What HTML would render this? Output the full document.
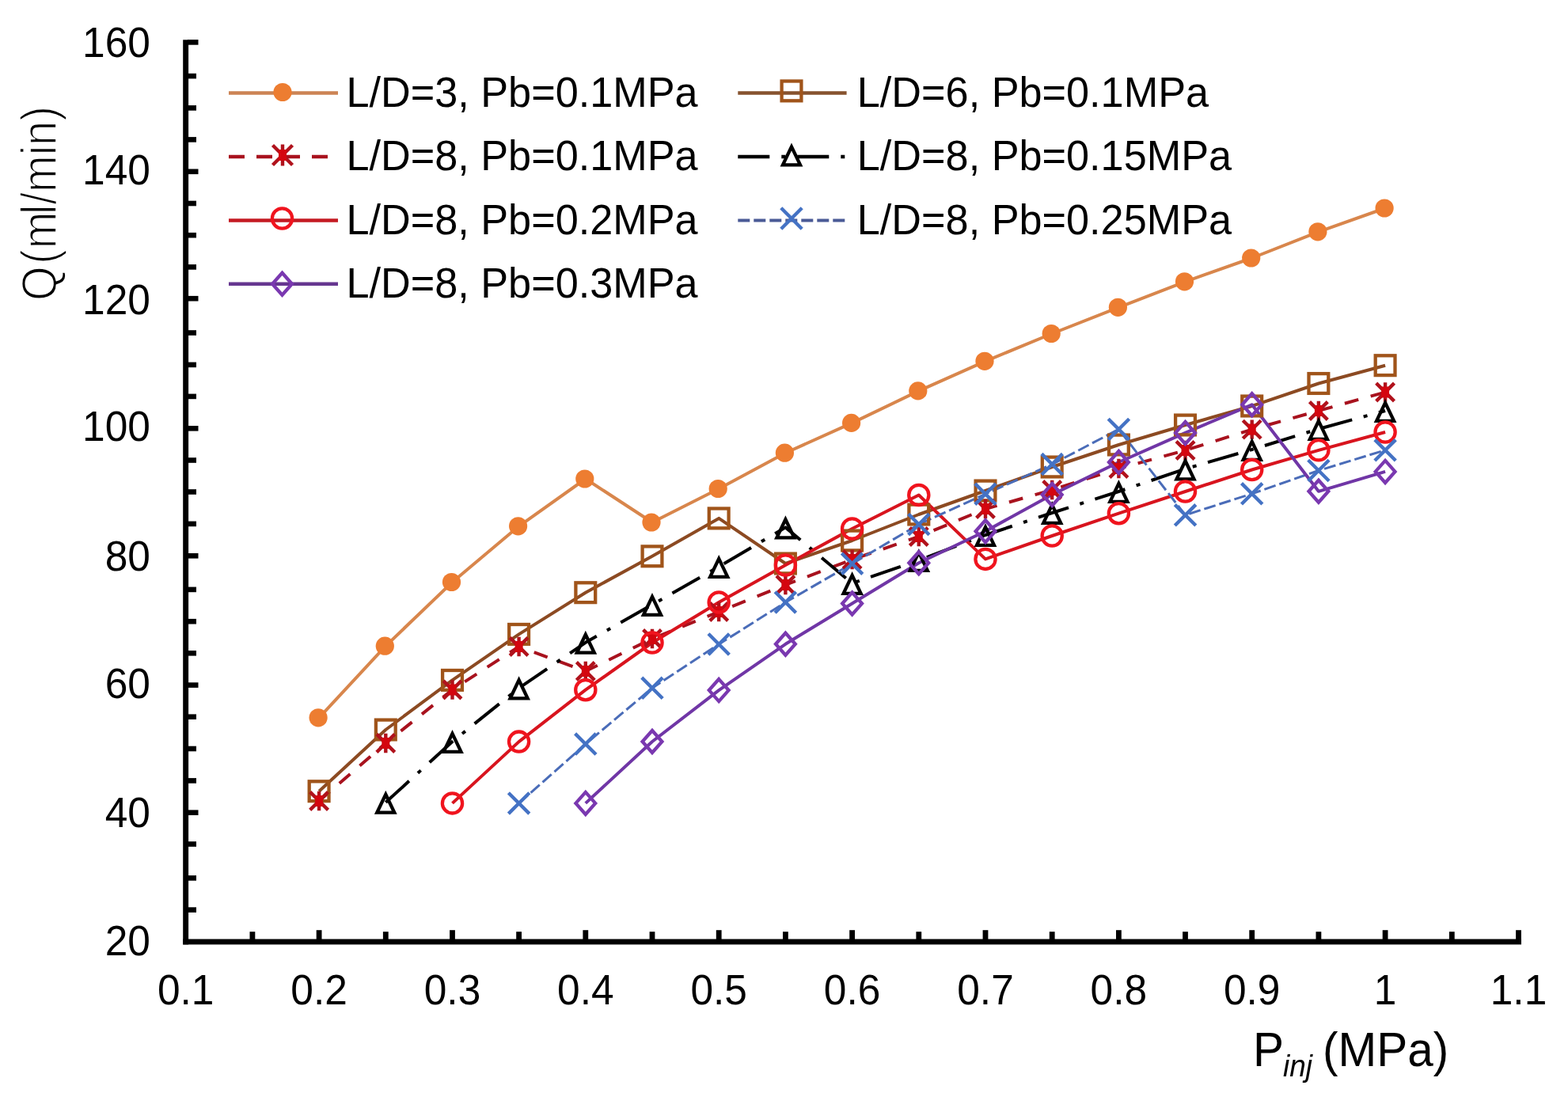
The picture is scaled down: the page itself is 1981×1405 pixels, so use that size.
<!DOCTYPE html>
<html><head><meta charset="utf-8"><title>Q vs Pinj</title>
<style>
html,body{margin:0;padding:0;background:#fff;}
body{width:1981px;height:1405px;overflow:hidden;}
svg{display:block;}
text{font-family:'Liberation Sans',Arial,sans-serif;fill:#000;}
</style></head><body>
<svg width="1981" height="1405" viewBox="0 0 1981 1405">
<rect x="0" y="0" width="1981" height="1405" fill="#fff"/>

<rect x="231.2" y="50.3" width="6.9" height="1143.1" fill="#000"/>
<rect x="231.2" y="1186.5" width="1690.8" height="6.9" fill="#000"/>
<rect x="237" y="1146.3" width="11.0" height="6.6" fill="#000"/>
<rect x="237" y="1106.1" width="11.0" height="6.6" fill="#000"/>
<rect x="237" y="1063.2" width="11.0" height="6.6" fill="#000"/>
<rect x="237" y="1023.4" width="13.5" height="6.6" fill="#000"/>
<rect x="237" y="983.1" width="11.0" height="6.6" fill="#000"/>
<rect x="237" y="942.7" width="11.0" height="6.6" fill="#000"/>
<rect x="237" y="902.4" width="11.0" height="6.6" fill="#000"/>
<rect x="237" y="862.3" width="13.5" height="6.6" fill="#000"/>
<rect x="237" y="822.0" width="11.0" height="6.6" fill="#000"/>
<rect x="237" y="781.9" width="11.0" height="6.6" fill="#000"/>
<rect x="237" y="741.6" width="11.0" height="6.6" fill="#000"/>
<rect x="237" y="699.0" width="13.5" height="6.6" fill="#000"/>
<rect x="237" y="658.6" width="11.0" height="6.6" fill="#000"/>
<rect x="237" y="618.2" width="11.0" height="6.6" fill="#000"/>
<rect x="237" y="578.2" width="11.0" height="6.6" fill="#000"/>
<rect x="237" y="538.0" width="13.5" height="6.6" fill="#000"/>
<rect x="237" y="497.6" width="11.0" height="6.6" fill="#000"/>
<rect x="237" y="457.6" width="11.0" height="6.6" fill="#000"/>
<rect x="237" y="417.2" width="11.0" height="6.6" fill="#000"/>
<rect x="237" y="373.9" width="13.5" height="6.6" fill="#000"/>
<rect x="237" y="334.1" width="11.0" height="6.6" fill="#000"/>
<rect x="237" y="293.9" width="11.0" height="6.6" fill="#000"/>
<rect x="237" y="253.7" width="11.0" height="6.6" fill="#000"/>
<rect x="237" y="213.5" width="13.5" height="6.6" fill="#000"/>
<rect x="237" y="173.1" width="11.0" height="6.6" fill="#000"/>
<rect x="237" y="133.1" width="11.0" height="6.6" fill="#000"/>
<rect x="237" y="92.8" width="11.0" height="6.6" fill="#000"/>
<rect x="237" y="50.1" width="13.5" height="6.6" fill="#000"/>
<rect x="315.5" y="1177.2" width="6.8" height="10.3" fill="#000"/>
<rect x="399.7" y="1175.2" width="6.8" height="12.3" fill="#000"/>
<rect x="483.9" y="1177.2" width="6.8" height="10.3" fill="#000"/>
<rect x="568.1" y="1175.2" width="6.8" height="12.3" fill="#000"/>
<rect x="652.2" y="1177.2" width="6.8" height="10.3" fill="#000"/>
<rect x="736.4" y="1175.2" width="6.8" height="12.3" fill="#000"/>
<rect x="820.6" y="1177.2" width="6.8" height="10.3" fill="#000"/>
<rect x="904.8" y="1175.2" width="6.8" height="12.3" fill="#000"/>
<rect x="989.0" y="1177.2" width="6.8" height="10.3" fill="#000"/>
<rect x="1073.2" y="1175.2" width="6.8" height="12.3" fill="#000"/>
<rect x="1157.4" y="1177.2" width="6.8" height="10.3" fill="#000"/>
<rect x="1241.6" y="1175.2" width="6.8" height="12.3" fill="#000"/>
<rect x="1325.8" y="1177.2" width="6.8" height="10.3" fill="#000"/>
<rect x="1410.0" y="1175.2" width="6.8" height="12.3" fill="#000"/>
<rect x="1494.1" y="1177.2" width="6.8" height="10.3" fill="#000"/>
<rect x="1578.3" y="1175.2" width="6.8" height="12.3" fill="#000"/>
<rect x="1662.5" y="1177.2" width="6.8" height="10.3" fill="#000"/>
<rect x="1746.7" y="1175.2" width="6.8" height="12.3" fill="#000"/>
<rect x="1830.9" y="1177.2" width="6.8" height="10.3" fill="#000"/>
<rect x="1915.1" y="1175.2" width="6.8" height="12.3" fill="#000"/>
<text transform="translate(190,1206.5) scale(1,1.035)" font-size="51.5" text-anchor="end">20</text>
<text transform="translate(190,1045.1) scale(1,1.035)" font-size="51.5" text-anchor="end">40</text>
<text transform="translate(190,881.9) scale(1,1.035)" font-size="51.5" text-anchor="end">60</text>
<text transform="translate(190,720.9) scale(1,1.035)" font-size="51.5" text-anchor="end">80</text>
<text transform="translate(190,557.4) scale(1,1.035)" font-size="51.5" text-anchor="end">100</text>
<text transform="translate(190,396.7) scale(1,1.035)" font-size="51.5" text-anchor="end">120</text>
<text transform="translate(190,233.2) scale(1,1.035)" font-size="51.5" text-anchor="end">140</text>
<text transform="translate(190,72.2) scale(1,1.035)" font-size="51.5" text-anchor="end">160</text>
<text transform="translate(234.7,1269) scale(1,1.035)" font-size="51.5" text-anchor="middle">0.1</text>
<text transform="translate(403.1,1269) scale(1,1.035)" font-size="51.5" text-anchor="middle">0.2</text>
<text transform="translate(571.5,1269) scale(1,1.035)" font-size="51.5" text-anchor="middle">0.3</text>
<text transform="translate(739.8,1269) scale(1,1.035)" font-size="51.5" text-anchor="middle">0.4</text>
<text transform="translate(908.2,1269) scale(1,1.035)" font-size="51.5" text-anchor="middle">0.5</text>
<text transform="translate(1076.6,1269) scale(1,1.035)" font-size="51.5" text-anchor="middle">0.6</text>
<text transform="translate(1245.0,1269) scale(1,1.035)" font-size="51.5" text-anchor="middle">0.7</text>
<text transform="translate(1413.4,1269) scale(1,1.035)" font-size="51.5" text-anchor="middle">0.8</text>
<text transform="translate(1581.7,1269) scale(1,1.035)" font-size="51.5" text-anchor="middle">0.9</text>
<text transform="translate(1750.1,1269) scale(1,1.035)" font-size="51.5" text-anchor="middle">1</text>
<text transform="translate(1918.5,1269) scale(1,1.035)" font-size="51.5" text-anchor="middle">1.1</text>
<text transform="translate(70.6,257) rotate(-90) scale(1,1.13)" font-size="56" text-anchor="middle" stroke="#fff" stroke-width="1.5" stroke-linejoin="round" dx="0 2.5 1 -3.5 0 0 0 0 0">Q(ml/min)</text>
<text transform="translate(1583,1347.2) scale(1,1.035)" font-size="58.5">P</text>
<text transform="translate(1621,1359.5) scale(1,1.035)" font-size="37" font-style="italic">inj</text>
<text transform="translate(1671,1347.2) scale(1,1.035)" font-size="58.5">(MPa)</text>
<polyline points="403.1,906.8 487.3,816.2 571.5,735.5 655.6,664.8 739.8,605.0 824.0,660.0 908.2,617.5 992.4,572.2 1076.6,534.4 1160.8,493.9 1245.0,456.3 1329.2,421.5 1413.4,388.3 1497.5,355.8 1581.7,326.0 1665.9,292.8 1750.1,263.0" fill="none" stroke="#D8864C" stroke-width="4.0" stroke-linejoin="round"/>
<polyline points="403.1,999.7 487.3,922.0 571.5,859.4 655.6,801.4 739.8,748.7 824.0,702.8 908.2,654.9 992.4,712.0 1076.6,683.0 1160.8,650.0 1245.0,620.0 1329.2,590.0 1413.4,562.0 1497.5,537.0 1581.7,513.0 1665.9,484.5 1750.1,461.7" fill="none" stroke="#8C4A22" stroke-width="4.0" stroke-linejoin="round"/>
<polyline points="403.1,1012.0 487.3,939.0 571.5,871.5 655.6,817.0 739.8,848.0 824.0,807.0 908.2,773.0 992.4,739.0 1076.6,707.0 1160.8,678.0 1245.0,643.0 1329.2,619.0 1413.4,592.0 1497.5,569.0 1581.7,542.6 1665.9,519.0 1750.1,495.5" fill="none" stroke="#A8121E" stroke-width="4.0" stroke-linejoin="round" stroke-dasharray="18 16"/>
<polyline points="487.3,1013.8 571.5,937.0 655.6,869.4 739.8,811.8 824.0,764.0 908.2,716.0 992.4,666.4 1076.6,737.0 1160.8,708.0 1245.0,676.0 1329.2,648.0 1413.4,621.0 1497.5,592.4 1581.7,568.0 1665.9,542.0 1750.1,519.0" fill="none" stroke="#000" stroke-width="4.0" stroke-linejoin="round" stroke-dasharray="40 15 5 15"/>
<polyline points="571.5,1014.9 655.6,937.1 739.8,871.7 824.0,812.0 908.2,761.0 992.4,714.0 1076.6,668.0 1160.8,625.5 1245.0,706.4 1329.2,677.0 1413.4,648.7 1497.5,621.0 1581.7,593.5 1665.9,568.8 1750.1,546.0" fill="none" stroke="#D8141E" stroke-width="4.0" stroke-linejoin="round"/>
<polyline points="655.6,1014.9 739.8,940.1 824.0,869.3 908.2,814.0 992.4,761.0 1076.6,712.2 1160.8,662.6 1245.0,624.2 1329.2,586.6 1413.4,542.4 1497.5,650.8 1581.7,623.8 1665.9,594.5 1750.1,568.8" fill="none" stroke="#4A6CB8" stroke-width="3.0" stroke-linejoin="round" stroke-dasharray="15 5"/>
<polyline points="739.8,1014.9 824.0,937.0 908.2,872.1 992.4,813.8 1076.6,762.5 1160.8,711.2 1245.0,671.2 1329.2,625.0 1413.4,584.0 1497.5,546.9 1581.7,511.3 1665.9,620.8 1750.1,595.9" fill="none" stroke="#7036A6" stroke-width="4.0" stroke-linejoin="round"/>
<circle cx="402.1" cy="906.8" r="11.6" fill="#ED7D31"/><circle cx="486.3" cy="816.2" r="11.6" fill="#ED7D31"/><circle cx="570.5" cy="735.5" r="11.6" fill="#ED7D31"/><circle cx="654.6" cy="664.8" r="11.6" fill="#ED7D31"/><circle cx="738.8" cy="605.0" r="11.6" fill="#ED7D31"/><circle cx="823.0" cy="660.0" r="11.6" fill="#ED7D31"/><circle cx="907.2" cy="617.5" r="11.6" fill="#ED7D31"/><circle cx="991.4" cy="572.2" r="11.6" fill="#ED7D31"/><circle cx="1075.6" cy="534.4" r="11.6" fill="#ED7D31"/><circle cx="1159.8" cy="493.9" r="11.6" fill="#ED7D31"/><circle cx="1244.0" cy="456.3" r="11.6" fill="#ED7D31"/><circle cx="1328.2" cy="421.5" r="11.6" fill="#ED7D31"/><circle cx="1412.4" cy="388.3" r="11.6" fill="#ED7D31"/><circle cx="1496.5" cy="355.8" r="11.6" fill="#ED7D31"/><circle cx="1580.7" cy="326.0" r="11.6" fill="#ED7D31"/><circle cx="1664.9" cy="292.8" r="11.6" fill="#ED7D31"/><circle cx="1749.1" cy="263.0" r="11.6" fill="#ED7D31"/>
<rect x="390.7" y="987.3" width="24.8" height="24.8" fill="none" stroke="#A0541A" stroke-width="4.3"/><rect x="474.9" y="909.6" width="24.8" height="24.8" fill="none" stroke="#A0541A" stroke-width="4.3"/><rect x="559.1" y="847.0" width="24.8" height="24.8" fill="none" stroke="#A0541A" stroke-width="4.3"/><rect x="643.2" y="789.0" width="24.8" height="24.8" fill="none" stroke="#A0541A" stroke-width="4.3"/><rect x="727.4" y="736.3" width="24.8" height="24.8" fill="none" stroke="#A0541A" stroke-width="4.3"/><rect x="811.6" y="690.4" width="24.8" height="24.8" fill="none" stroke="#A0541A" stroke-width="4.3"/><rect x="895.8" y="642.5" width="24.8" height="24.8" fill="none" stroke="#A0541A" stroke-width="4.3"/><rect x="980.0" y="699.6" width="24.8" height="24.8" fill="none" stroke="#A0541A" stroke-width="4.3"/><rect x="1064.2" y="670.6" width="24.8" height="24.8" fill="none" stroke="#A0541A" stroke-width="4.3"/><rect x="1148.4" y="637.6" width="24.8" height="24.8" fill="none" stroke="#A0541A" stroke-width="4.3"/><rect x="1232.6" y="607.6" width="24.8" height="24.8" fill="none" stroke="#A0541A" stroke-width="4.3"/><rect x="1316.8" y="577.6" width="24.8" height="24.8" fill="none" stroke="#A0541A" stroke-width="4.3"/><rect x="1401.0" y="549.6" width="24.8" height="24.8" fill="none" stroke="#A0541A" stroke-width="4.3"/><rect x="1485.1" y="524.6" width="24.8" height="24.8" fill="none" stroke="#A0541A" stroke-width="4.3"/><rect x="1569.3" y="500.6" width="24.8" height="24.8" fill="none" stroke="#A0541A" stroke-width="4.3"/><rect x="1653.5" y="472.1" width="24.8" height="24.8" fill="none" stroke="#A0541A" stroke-width="4.3"/><rect x="1737.7" y="449.3" width="24.8" height="24.8" fill="none" stroke="#A0541A" stroke-width="4.3"/>
<path d="M391.7,1000.6L414.5,1023.4M414.5,1000.6L391.7,1023.4M403.1,999.8L403.1,1024.2" stroke="#B0121C" stroke-width="4.4" fill="none"/><rect x="398.1" y="1005.0" width="10" height="14" fill="#D4060F"/><path d="M475.9,927.6L498.7,950.4M498.7,927.6L475.9,950.4M487.3,926.8L487.3,951.2" stroke="#B0121C" stroke-width="4.4" fill="none"/><rect x="482.3" y="932.0" width="10" height="14" fill="#D4060F"/><path d="M560.1,860.1L582.9,882.9M582.9,860.1L560.1,882.9M571.5,859.3L571.5,883.7" stroke="#B0121C" stroke-width="4.4" fill="none"/><rect x="566.5" y="864.5" width="10" height="14" fill="#D4060F"/><path d="M644.2,805.6L667.0,828.4M667.0,805.6L644.2,828.4M655.6,804.8L655.6,829.2" stroke="#B0121C" stroke-width="4.4" fill="none"/><rect x="650.6" y="810.0" width="10" height="14" fill="#D4060F"/><path d="M728.4,836.6L751.2,859.4M751.2,836.6L728.4,859.4M739.8,835.8L739.8,860.2" stroke="#B0121C" stroke-width="4.4" fill="none"/><rect x="734.8" y="841.0" width="10" height="14" fill="#D4060F"/><path d="M812.6,795.6L835.4,818.4M835.4,795.6L812.6,818.4M824.0,794.8L824.0,819.2" stroke="#B0121C" stroke-width="4.4" fill="none"/><rect x="819.0" y="800.0" width="10" height="14" fill="#D4060F"/><path d="M896.8,761.6L919.6,784.4M919.6,761.6L896.8,784.4M908.2,760.8L908.2,785.2" stroke="#B0121C" stroke-width="4.4" fill="none"/><rect x="903.2" y="766.0" width="10" height="14" fill="#D4060F"/><path d="M981.0,727.6L1003.8,750.4M1003.8,727.6L981.0,750.4M992.4,726.8L992.4,751.2" stroke="#B0121C" stroke-width="4.4" fill="none"/><rect x="987.4" y="732.0" width="10" height="14" fill="#D4060F"/><path d="M1065.2,695.6L1088.0,718.4M1088.0,695.6L1065.2,718.4M1076.6,694.8L1076.6,719.2" stroke="#B0121C" stroke-width="4.4" fill="none"/><rect x="1071.6" y="700.0" width="10" height="14" fill="#D4060F"/><path d="M1149.4,666.6L1172.2,689.4M1172.2,666.6L1149.4,689.4M1160.8,665.8L1160.8,690.2" stroke="#B0121C" stroke-width="4.4" fill="none"/><rect x="1155.8" y="671.0" width="10" height="14" fill="#D4060F"/><path d="M1233.6,631.6L1256.4,654.4M1256.4,631.6L1233.6,654.4M1245.0,630.8L1245.0,655.2" stroke="#B0121C" stroke-width="4.4" fill="none"/><rect x="1240.0" y="636.0" width="10" height="14" fill="#D4060F"/><path d="M1317.8,607.6L1340.6,630.4M1340.6,607.6L1317.8,630.4M1329.2,606.8L1329.2,631.2" stroke="#B0121C" stroke-width="4.4" fill="none"/><rect x="1324.2" y="612.0" width="10" height="14" fill="#D4060F"/><path d="M1402.0,580.6L1424.8,603.4M1424.8,580.6L1402.0,603.4M1413.4,579.8L1413.4,604.2" stroke="#B0121C" stroke-width="4.4" fill="none"/><rect x="1408.4" y="585.0" width="10" height="14" fill="#D4060F"/><path d="M1486.1,557.6L1509.0,580.4M1509.0,557.6L1486.1,580.4M1497.5,556.8L1497.5,581.2" stroke="#B0121C" stroke-width="4.4" fill="none"/><rect x="1492.5" y="562.0" width="10" height="14" fill="#D4060F"/><path d="M1570.3,531.2L1593.1,554.0M1593.1,531.2L1570.3,554.0M1581.7,530.4L1581.7,554.8" stroke="#B0121C" stroke-width="4.4" fill="none"/><rect x="1576.7" y="535.6" width="10" height="14" fill="#D4060F"/><path d="M1654.5,507.6L1677.3,530.4M1677.3,507.6L1654.5,530.4M1665.9,506.8L1665.9,531.2" stroke="#B0121C" stroke-width="4.4" fill="none"/><rect x="1660.9" y="512.0" width="10" height="14" fill="#D4060F"/><path d="M1738.7,484.1L1761.5,506.9M1761.5,484.1L1738.7,506.9M1750.1,483.3L1750.1,507.7" stroke="#B0121C" stroke-width="4.4" fill="none"/><rect x="1745.1" y="488.5" width="10" height="14" fill="#D4060F"/>
<path d="M487.3,1003.7L498.3,1026.7L476.3,1026.7Z" fill="none" stroke="#000" stroke-width="4.3" stroke-linejoin="miter"/><path d="M571.5,926.9L582.5,949.9L560.5,949.9Z" fill="none" stroke="#000" stroke-width="4.3" stroke-linejoin="miter"/><path d="M655.6,859.3L666.6,882.3L644.6,882.3Z" fill="none" stroke="#000" stroke-width="4.3" stroke-linejoin="miter"/><path d="M739.8,801.7L750.8,824.7L728.8,824.7Z" fill="none" stroke="#000" stroke-width="4.3" stroke-linejoin="miter"/><path d="M824.0,753.9L835.0,776.9L813.0,776.9Z" fill="none" stroke="#000" stroke-width="4.3" stroke-linejoin="miter"/><path d="M908.2,705.9L919.2,728.9L897.2,728.9Z" fill="none" stroke="#000" stroke-width="4.3" stroke-linejoin="miter"/><path d="M992.4,656.3L1003.4,679.3L981.4,679.3Z" fill="none" stroke="#000" stroke-width="4.3" stroke-linejoin="miter"/><path d="M1076.6,726.9L1087.6,749.9L1065.6,749.9Z" fill="none" stroke="#000" stroke-width="4.3" stroke-linejoin="miter"/><path d="M1160.8,697.9L1171.8,720.9L1149.8,720.9Z" fill="none" stroke="#000" stroke-width="4.3" stroke-linejoin="miter"/><path d="M1245.0,665.9L1256.0,688.9L1234.0,688.9Z" fill="none" stroke="#000" stroke-width="4.3" stroke-linejoin="miter"/><path d="M1329.2,637.9L1340.2,660.9L1318.2,660.9Z" fill="none" stroke="#000" stroke-width="4.3" stroke-linejoin="miter"/><path d="M1413.4,610.9L1424.4,633.9L1402.4,633.9Z" fill="none" stroke="#000" stroke-width="4.3" stroke-linejoin="miter"/><path d="M1497.5,582.3L1508.5,605.3L1486.5,605.3Z" fill="none" stroke="#000" stroke-width="4.3" stroke-linejoin="miter"/><path d="M1581.7,557.9L1592.7,580.9L1570.7,580.9Z" fill="none" stroke="#000" stroke-width="4.3" stroke-linejoin="miter"/><path d="M1665.9,531.9L1676.9,554.9L1654.9,554.9Z" fill="none" stroke="#000" stroke-width="4.3" stroke-linejoin="miter"/><path d="M1750.1,508.9L1761.1,531.9L1739.1,531.9Z" fill="none" stroke="#000" stroke-width="4.3" stroke-linejoin="miter"/>
<circle cx="571.5" cy="1014.9" r="12.6" fill="none" stroke="#F0141E" stroke-width="4.3"/><circle cx="655.6" cy="937.1" r="12.6" fill="none" stroke="#F0141E" stroke-width="4.3"/><circle cx="739.8" cy="871.7" r="12.6" fill="none" stroke="#F0141E" stroke-width="4.3"/><circle cx="824.0" cy="812.0" r="12.6" fill="none" stroke="#F0141E" stroke-width="4.3"/><circle cx="908.2" cy="761.0" r="12.6" fill="none" stroke="#F0141E" stroke-width="4.3"/><circle cx="992.4" cy="714.0" r="12.6" fill="none" stroke="#F0141E" stroke-width="4.3"/><circle cx="1076.6" cy="668.0" r="12.6" fill="none" stroke="#F0141E" stroke-width="4.3"/><circle cx="1160.8" cy="625.5" r="12.6" fill="none" stroke="#F0141E" stroke-width="4.3"/><circle cx="1245.0" cy="706.4" r="12.6" fill="none" stroke="#F0141E" stroke-width="4.3"/><circle cx="1329.2" cy="677.0" r="12.6" fill="none" stroke="#F0141E" stroke-width="4.3"/><circle cx="1413.4" cy="648.7" r="12.6" fill="none" stroke="#F0141E" stroke-width="4.3"/><circle cx="1497.5" cy="621.0" r="12.6" fill="none" stroke="#F0141E" stroke-width="4.3"/><circle cx="1581.7" cy="593.5" r="12.6" fill="none" stroke="#F0141E" stroke-width="4.3"/><circle cx="1665.9" cy="568.8" r="12.6" fill="none" stroke="#F0141E" stroke-width="4.3"/><circle cx="1750.1" cy="546.0" r="12.6" fill="none" stroke="#F0141E" stroke-width="4.3"/>
<path d="M642.4,1001.7L668.8,1028.1M668.8,1001.7L642.4,1028.1" stroke="#4472C4" stroke-width="4.4" fill="none"/><path d="M726.6,926.9L753.0,953.3M753.0,926.9L726.6,953.3" stroke="#4472C4" stroke-width="4.4" fill="none"/><path d="M810.8,856.1L837.2,882.5M837.2,856.1L810.8,882.5" stroke="#4472C4" stroke-width="4.4" fill="none"/><path d="M895.0,800.8L921.4,827.2M921.4,800.8L895.0,827.2" stroke="#4472C4" stroke-width="4.4" fill="none"/><path d="M979.2,747.8L1005.6,774.2M1005.6,747.8L979.2,774.2" stroke="#4472C4" stroke-width="4.4" fill="none"/><path d="M1063.4,699.0L1089.8,725.4M1089.8,699.0L1063.4,725.4" stroke="#4472C4" stroke-width="4.4" fill="none"/><path d="M1147.6,649.4L1174.0,675.8M1174.0,649.4L1147.6,675.8" stroke="#4472C4" stroke-width="4.4" fill="none"/><path d="M1231.8,611.0L1258.2,637.4M1258.2,611.0L1231.8,637.4" stroke="#4472C4" stroke-width="4.4" fill="none"/><path d="M1316.0,573.4L1342.4,599.8M1342.4,573.4L1316.0,599.8" stroke="#4472C4" stroke-width="4.4" fill="none"/><path d="M1400.2,529.2L1426.6,555.6M1426.6,529.2L1400.2,555.6" stroke="#4472C4" stroke-width="4.4" fill="none"/><path d="M1484.3,637.6L1510.8,664.0M1510.8,637.6L1484.3,664.0" stroke="#4472C4" stroke-width="4.4" fill="none"/><path d="M1568.5,610.6L1594.9,637.0M1594.9,610.6L1568.5,637.0" stroke="#4472C4" stroke-width="4.4" fill="none"/><path d="M1652.7,581.3L1679.1,607.7M1679.1,581.3L1652.7,607.7" stroke="#4472C4" stroke-width="4.4" fill="none"/><path d="M1736.9,555.6L1763.3,582.0M1763.3,555.6L1736.9,582.0" stroke="#4472C4" stroke-width="4.4" fill="none"/>
<path d="M739.8,1000.9L752.2,1014.9L739.8,1028.9L727.4,1014.9Z" fill="none" stroke="#7A38B0" stroke-width="4.3" stroke-linejoin="miter"/><path d="M824.0,923.0L836.4,937.0L824.0,951.0L811.6,937.0Z" fill="none" stroke="#7A38B0" stroke-width="4.3" stroke-linejoin="miter"/><path d="M908.2,858.1L920.6,872.1L908.2,886.1L895.8,872.1Z" fill="none" stroke="#7A38B0" stroke-width="4.3" stroke-linejoin="miter"/><path d="M992.4,799.8L1004.8,813.8L992.4,827.8L980.0,813.8Z" fill="none" stroke="#7A38B0" stroke-width="4.3" stroke-linejoin="miter"/><path d="M1076.6,748.5L1089.0,762.5L1076.6,776.5L1064.2,762.5Z" fill="none" stroke="#7A38B0" stroke-width="4.3" stroke-linejoin="miter"/><path d="M1160.8,697.2L1173.2,711.2L1160.8,725.2L1148.4,711.2Z" fill="none" stroke="#7A38B0" stroke-width="4.3" stroke-linejoin="miter"/><path d="M1245.0,657.2L1257.4,671.2L1245.0,685.2L1232.6,671.2Z" fill="none" stroke="#7A38B0" stroke-width="4.3" stroke-linejoin="miter"/><path d="M1329.2,611.0L1341.6,625.0L1329.2,639.0L1316.8,625.0Z" fill="none" stroke="#7A38B0" stroke-width="4.3" stroke-linejoin="miter"/><path d="M1413.4,570.0L1425.8,584.0L1413.4,598.0L1401.0,584.0Z" fill="none" stroke="#7A38B0" stroke-width="4.3" stroke-linejoin="miter"/><path d="M1497.5,532.9L1510.0,546.9L1497.5,560.9L1485.1,546.9Z" fill="none" stroke="#7A38B0" stroke-width="4.3" stroke-linejoin="miter"/><path d="M1581.7,497.3L1594.1,511.3L1581.7,525.3L1569.3,511.3Z" fill="none" stroke="#7A38B0" stroke-width="4.3" stroke-linejoin="miter"/><path d="M1665.9,606.8L1678.3,620.8L1665.9,634.8L1653.5,620.8Z" fill="none" stroke="#7A38B0" stroke-width="4.3" stroke-linejoin="miter"/><path d="M1750.1,581.9L1762.5,595.9L1750.1,609.9L1737.7,595.9Z" fill="none" stroke="#7A38B0" stroke-width="4.3" stroke-linejoin="miter"/>
<line x1="289" y1="117.5" x2="427" y2="117.5" stroke="#CC8455" stroke-width="4.5"/>
<circle cx="357.0" cy="116.5" r="11.6" fill="#ED7D31"/>
<line x1="289" y1="198" x2="427" y2="198" stroke="#A8121E" stroke-width="4.5" stroke-dasharray="20 15"/>
<path d="M344.5,183.5L369.5,208.5M369.5,183.5L344.5,208.5M357.0,182.6L357.0,209.4" stroke="#B0121C" stroke-width="4.4" fill="none"/><rect x="352.0" y="189.0" width="10" height="14" fill="#D4060F"/>
<line x1="289" y1="278.5" x2="427" y2="278.5" stroke="#C41A22" stroke-width="4.5"/>
<circle cx="356.5" cy="276.0" r="12.6" fill="none" stroke="#F0141E" stroke-width="4.3"/>
<line x1="289" y1="358.7" x2="427" y2="358.7" stroke="#663690" stroke-width="4.5"/>
<path d="M356.5,344.7L368.9,358.7L356.5,372.7L344.1,358.7Z" fill="none" stroke="#7A38B0" stroke-width="4.3" stroke-linejoin="miter"/>
<line x1="932.3" y1="117.5" x2="1069.6" y2="117.5" stroke="#87532F" stroke-width="4.5"/>
<rect x="987.6" y="102.5" width="24.8" height="24.8" fill="none" stroke="#A0541A" stroke-width="4.3"/>
<line x1="932.3" y1="198" x2="1069.6" y2="198" stroke="#000" stroke-width="4.5" stroke-dasharray="40 15 5 15"/>
<path d="M1000.0,185.4L1011.0,208.4L989.0,208.4Z" fill="none" stroke="#000" stroke-width="4.3" stroke-linejoin="miter"/>
<line x1="932.3" y1="278.5" x2="1069.6" y2="278.5" stroke="#4A5A96" stroke-width="4.0" stroke-dasharray="15 5"/>
<path d="M986.8,262.8L1013.2,289.2M1013.2,262.8L986.8,289.2" stroke="#4472C4" stroke-width="4.4" fill="none"/>
<text transform="translate(437.4,134.8) scale(1,1.025)" font-size="52.25">L/D=3, Pb=0.1MPa</text>
<text transform="translate(437.4,215.3) scale(1,1.025)" font-size="52.25">L/D=8, Pb=0.1MPa</text>
<text transform="translate(437.4,295.8) scale(1,1.025)" font-size="52.25">L/D=8, Pb=0.2MPa</text>
<text transform="translate(437.4,376.0) scale(1,1.025)" font-size="52.25">L/D=8, Pb=0.3MPa</text>
<text transform="translate(1082.8,134.8) scale(1,1.025)" font-size="52.25">L/D=6, Pb=0.1MPa</text>
<text transform="translate(1082.8,215.3) scale(1,1.025)" font-size="52.25">L/D=8, Pb=0.15MPa</text>
<text transform="translate(1082.8,295.8) scale(1,1.025)" font-size="52.25">L/D=8, Pb=0.25MPa</text>
</svg>
</body></html>
